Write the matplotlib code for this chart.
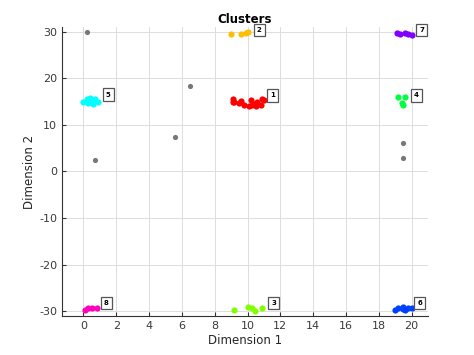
import numpy as np
import matplotlib
matplotlib.use("Agg")
import matplotlib.pyplot as plt
from matplotlib.colors import hsv_to_rgb

plt.rcParams['axes.unicode_minus'] = False

# cluster points (x, y)
c1_x = [9.1, 9.1, 9.2, 9.5, 9.6, 9.8, 10.1, 10.2, 10.3, 10.4, 10.5, 10.6, 10.8, 10.9, 11.0]
c1_y = [15.5, 14.8, 15.0, 14.6, 15.2, 14.3, 14.0, 15.3, 14.2, 14.5, 14.0, 15.0, 14.2, 15.5, 15.3]
c2_x = [9.0, 9.6, 9.9, 10.0]
c2_y = [29.6, 29.6, 29.7, 29.9]
c3_x = [9.2, 10.05, 10.25, 10.45, 10.9]
c3_y = [-29.7, -29.1, -29.3, -29.9, -29.4]
c4_x = [19.2, 19.6, 19.4, 19.5]
c4_y = [15.9, 16.0, 14.6, 14.2]
c5_x = [0.0, 0.2, 0.3, 0.4, 0.5, 0.6, 0.7, 0.9, 0.2]
c5_y = [15.0, 15.5, 14.6, 15.8, 15.2, 14.4, 15.6, 15.0, 14.8]
c6_x = [19.0, 19.2, 19.5, 19.6, 19.8, 20.0, 19.5]
c6_y = [-29.8, -29.2, -29.0, -29.8, -29.3, -29.2, -29.5]
c7_x = [19.1, 19.3, 19.6, 19.8, 20.0]
c7_y = [29.8, 29.4, 29.7, 29.5, 29.2]
c8_x = [0.1, 0.3, 0.5, 0.8]
c8_y = [-29.8, -29.4, -29.2, -29.4]

noise_x = [0.2, 6.5, 5.6, 0.7, 19.5, 19.45]
noise_y = [30.0, 18.3, 7.4, 2.5, 6.2, 2.8]

label_x = [11.5, 10.7, 11.6, 20.3, 1.5, 20.5, 20.6, 1.4]
label_y = [16.3, 30.4, -28.2, 16.3, 16.5, -28.2, 30.4, -28.3]

clusters = [(c1_x, c1_y), (c2_x, c2_y), (c3_x, c3_y), (c4_x, c4_y),
            (c5_x, c5_y), (c6_x, c6_y), (c7_x, c7_y), (c8_x, c8_y)]

fig = plt.figure(figsize=(4.74, 3.55), dpi=100)
ax = fig.add_axes([0.131, 0.110, 0.772, 0.814])

ax.scatter(noise_x, noise_y, s=14, color='#777777', zorder=3, linewidths=0)

for i, (xs, ys) in enumerate(clusters):
    col = hsv_to_rgb([i / 8.0, 1.0, 1.0])
    ax.scatter(xs, ys, s=20, color=col, zorder=3, linewidths=0)
    ax.text(label_x[i], label_y[i], str(i + 1), fontsize=5, fontweight='bold',
            ha='center', va='center', zorder=4,
            bbox=dict(boxstyle='square,pad=0.45', fc='white', ec='#555555', lw=0.9))

ax.set_xlim(-1.3, 21)
ax.set_ylim(-31, 31)
ax.set_xticks(np.arange(0, 21, 2))
ax.set_yticks(np.arange(-30, 31, 10))
ax.grid(True, color='#dddddd', linewidth=0.7)
ax.set_axisbelow(True)
ax.spines['top'].set_visible(False)
ax.spines['right'].set_visible(False)
for s in ['left', 'bottom']:
    ax.spines[s].set_color('#333333')
    ax.spines[s].set_linewidth(0.8)
ax.tick_params(direction='in', length=3, labelsize=8, colors='#333333', labelcolor='#3a3a3a')
ax.set_xlabel('Dimension 1', fontsize=8.5, color='#262626', labelpad=2)
ax.set_ylabel('Dimension 2', fontsize=8.5, color='#262626', labelpad=2)
ax.set_title('Clusters', fontsize=8.5, fontweight='bold', pad=3)

fig.savefig('out.png', dpi=100)
